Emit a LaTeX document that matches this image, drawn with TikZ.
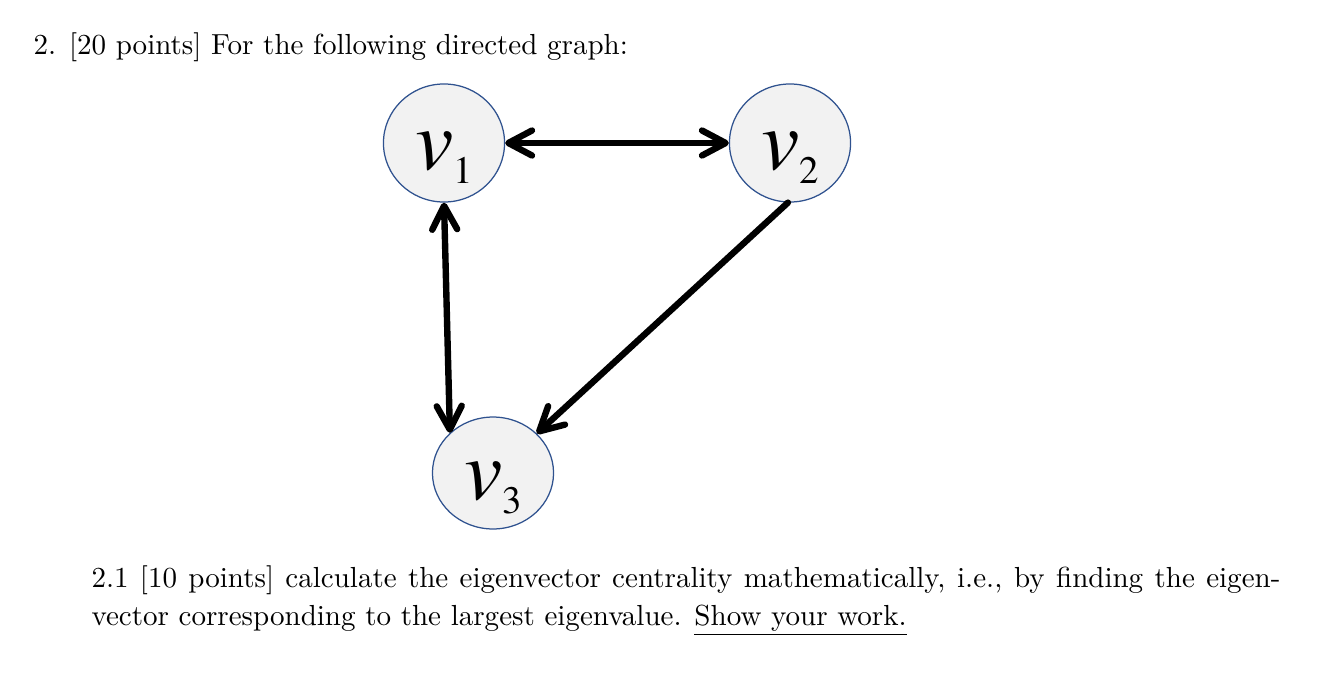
\documentclass[tikz,border=0pt]{standalone}
\usepackage{fontspec}
\newfontfamily\timesf{texgyretermes}[Extension=.otf, UprightFont=*-regular, ItalicFont=*-italic]
\usetikzlibrary{arrows.meta,shapes.geometric}
\definecolor{nodefill}{HTML}{F2F2F2}
\definecolor{nodeline}{HTML}{2F528F}

\newcommand*{\vlab}[1]{{\itshape v}\raisebox{-4.7pt}{\fontsize{14}{14}\selectfont #1}}

\begin{document}
\begin{tikzpicture}[x=0.36pt,y=-0.36pt]

\useasboundingbox (0,0) rectangle (1324,678);

\tikzstyle{vertex} = [ellipse, draw=nodeline, line width=0.45pt, fill=nodefill, minimum width=43.6pt, minimum height=42.5pt, inner sep=0pt, text height=21pt, text depth=1.6pt, font=\timesf\fontsize{31}{31}\selectfont];
\tikzstyle{edge} = [line width=2.3pt, line cap=round, >={Straight Barb[length=8.5pt,width=9pt,round]}];
\tikzstyle{txt} = [anchor=base west, inner sep=0pt, font=\fontsize{10.45}{13.7}\selectfont];

%question:
\node[txt] (q2) at (33,54) {2. [20 points] For the following directed graph:};

%vertices:
\node[vertex] (v1) at (444,143) {\vlab{1}};
\node[vertex] (v2) at (790,143) {\vlab{2}};
\node[vertex, minimum height=40.3pt] (v3) at (493,473) {\vlab{3}};

%edges:
\draw[edge,<->] (v1) -- (v2);
\draw[edge,<->] (v1.south) -- (v3.137);
\draw[edge,->] (v2.-92) -- (v3.42);

%part 2.1
\node[txt, text width=428pt, align=justify] (q21) at (91,587) {2.1 [10 points] calculate the eigenvector centrality mathematically, i.e., by finding the eigen-\linebreak vector corresponding to the largest eigenvalue. \underline{Show your work.}};

\end{tikzpicture}
\end{document}
